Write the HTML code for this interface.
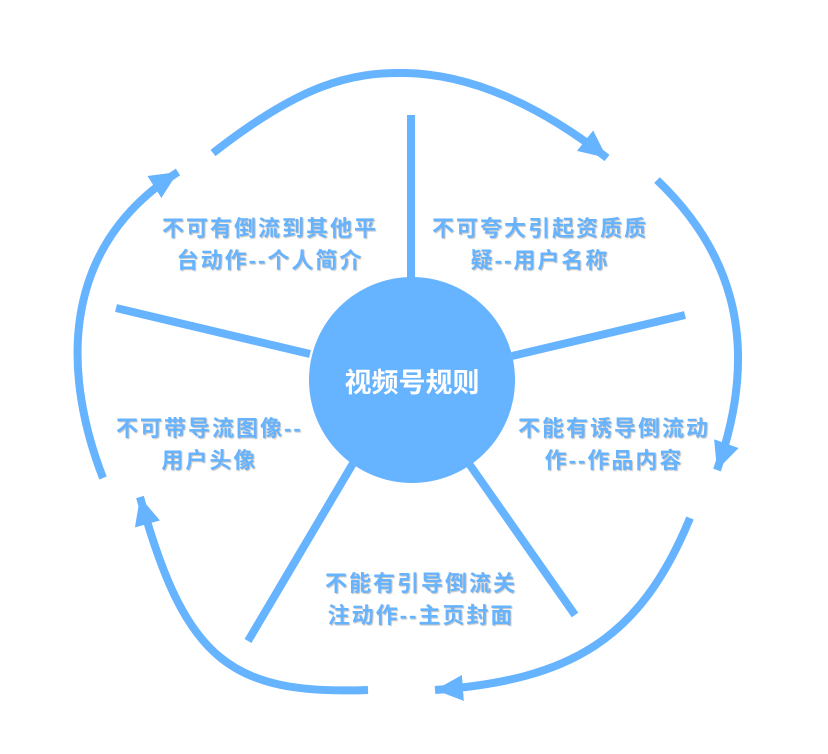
<!DOCTYPE html>
<html><head><meta charset="utf-8"><style>
html,body{margin:0;padding:0;background:#fff;}
.t{position:absolute;font-family:"Liberation Sans","Noto Sans CJK SC",sans-serif;font-weight:bold;color:#66b3ff;font-size:22px;letter-spacing:2px;line-height:32px;text-align:center;text-shadow:1px 1px 1px rgba(0,0,0,0.25);white-space:nowrap;}
</style></head><body>
<div style="position:relative;width:828px;height:754px;overflow:hidden;">
<svg width="828" height="754" style="position:absolute;left:0;top:0">
<defs>
<marker id="a" markerUnits="userSpaceOnUse" markerWidth="40" markerHeight="40" refX="28" refY="15" orient="auto">
<polygon points="0,2 28,15 0,28" fill="#66b3ff"/>
</marker>
</defs>
<g stroke="#66b3ff" stroke-width="8" fill="none">
<line x1="411" y1="115" x2="411" y2="280"/>
<line x1="116" y1="308" x2="310" y2="354"/>
<line x1="512" y1="356" x2="685" y2="315"/>
<line x1="355" y1="460" x2="248" y2="641"/>
<line x1="465" y1="458" x2="575" y2="615"/>
<path d="M213,153 C300,85 350,72 405,73 C470,74 540,105 607,158" marker-end="url(#a)"/>
<path d="M657,180 C725,245 765,335 717,470" marker-end="url(#a)"/>
<path d="M690,518 C640,640 570,680 435,690" marker-end="url(#a)"/>
<path d="M368,690 C230,695 185,660 140,497" marker-end="url(#a)"/>
<path d="M103,478 C65,380 55,250 178,172" marker-end="url(#a)"/>
</g>
<circle cx="412" cy="380" r="103" fill="#66b3ff"/>
<text x="412" y="392" text-anchor="middle" font-family="Liberation Sans, Noto Sans CJK SC, sans-serif" font-weight="bold" font-size="27" fill="#fff">视频号规则</text>
</svg>
<div class="t" style="left:162px;top:213px;">不可有倒流到其他平<br>台动作--个人简介</div>
<div class="t" style="left:432px;top:213px;">不可夸大引起资质质<br>疑--用户名称</div>
<div class="t" style="left:116px;top:413px;">不可带导流图像--<br>用户头像</div>
<div class="t" style="left:518px;top:413px;">不能有诱导倒流动<br>作--作品内容</div>
<div class="t" style="left:325px;top:568px;">不能有引导倒流关<br>注动作--主页封面</div>
</div>
</body></html>
